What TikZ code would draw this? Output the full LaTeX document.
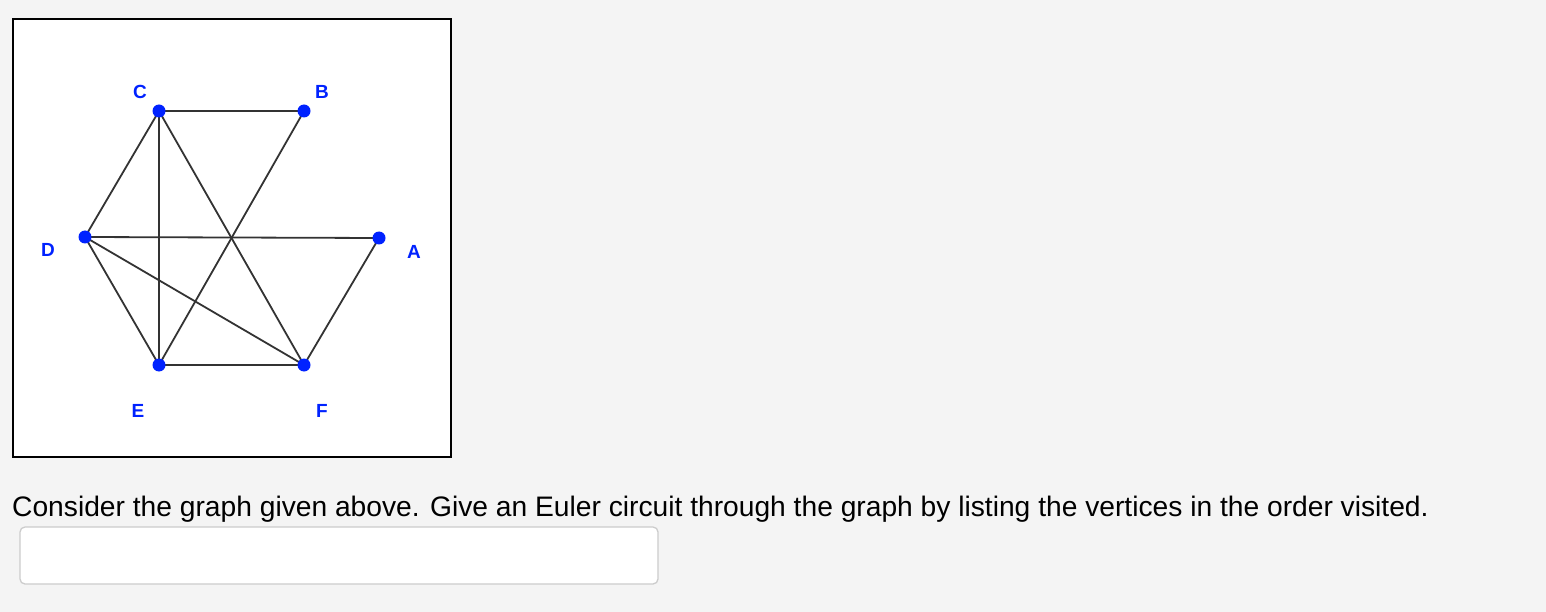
\documentclass[tikz,border=0pt]{standalone}
\usepackage{fontspec}
\setmainfont{Liberation Sans}
\definecolor{bg}{HTML}{F4F4F4}
\definecolor{vblue}{HTML}{0022FF}
\definecolor{edgec}{HTML}{333333}
\definecolor{boxborder}{HTML}{CCCCCC}
\begin{document}
\begin{tikzpicture}[x=1pt,y=-1pt,
  vert/.style={circle,fill=vblue,inner sep=0pt,minimum size=13pt},
  vlabel/.style={text=vblue,font=\fontsize{19}{19}\selectfont\bfseries,inner sep=0pt},
  edge/.style={draw=edgec,line width=1.8pt}]
\fill[bg] (0,0) rectangle (1546,612);
\useasboundingbox (0,0) rectangle (1546,612);
\draw[fill=white,line width=1.6pt] (13,19) rectangle (451,457);
\coordinate (C) at (159,111);
\coordinate (B) at (304,111);
\coordinate (D) at (85,237);
\coordinate (A) at (379,238);
\coordinate (E) at (159,365);
\coordinate (F) at (304,365);
\draw[edge] (C) -- (B);
\draw[edge] (C) -- (D);
\draw[edge] (C) -- (E);
\draw[edge] (C) -- (F);
\draw[edge] (B) -- (E);
\draw[edge] (D) -- (A);
\draw[edge] (D) -- (E);
\draw[edge] (D) -- (F);
\draw[edge] (A) -- (F);
\draw[edge] (E) -- (F);
\foreach \v in {A,B,C,D,E,F} \node[vert] (n\v) at (\v) {};
\node[vlabel] (lC) at (140,92) {C};
\node[vlabel] (lB) at (322,92) {B};
\node[vlabel] (lD) at (48,250) {D};
\node[vlabel] (lA) at (414,252) {A};
\node[vlabel] (lE) at (138,411) {E};
\node[vlabel] (lF) at (322,411) {F};
\node[anchor=base west,inner sep=0pt,font=\fontsize{28.2}{28.2}\selectfont] (q) at (12,516) {Consider the graph given above. Give an Euler circuit through the graph by listing the vertices in the order visited.};
\draw[draw=boxborder,fill=white,line width=1.3pt,rounded corners=5pt] (20,527) rectangle (658,584);
\end{tikzpicture}
\end{document}
